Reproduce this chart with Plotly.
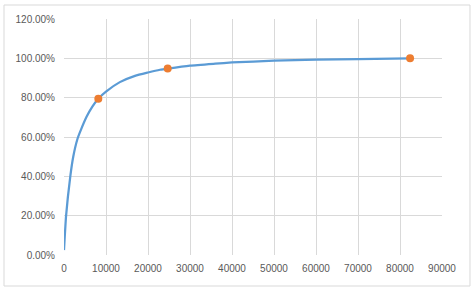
import plotly.graph_objects as go

# cumulative curve
curve_x = [0, 500, 1500, 2200, 3200, 4000, 5400, 6750, 8170, 10000, 13300,
           16900, 20000, 22860, 24690, 30000, 36000, 40000, 50000, 60000, 70000, 82400]
curve_y = [0.025, 0.20, 0.40, 0.50, 0.59, 0.635, 0.704, 0.755, 0.795, 0.831, 0.879,
           0.911, 0.928, 0.942, 0.948, 0.963, 0.973, 0.979, 0.988, 0.993, 0.996, 1.0]

# highlighted points
mark_x = [8170, 24690, 82400]
mark_y = [0.795, 0.948, 1.0]

x_ticks = [0, 10000, 20000, 30000, 40000, 50000, 60000, 70000, 80000, 90000]
y_ticks = [0, 0.2, 0.4, 0.6, 0.8, 1.0, 1.2]

fig = go.Figure()
fig.add_trace(go.Scatter(x=curve_x, y=curve_y, mode="lines",
                         line=dict(color="#5b9bd5", width=2.25, shape="spline", smoothing=0.5),
                         showlegend=False, hoverinfo="skip"))
fig.add_trace(go.Scatter(x=mark_x, y=mark_y, mode="markers",
                         marker=dict(color="#ed7d31", size=8),
                         showlegend=False))

font = dict(family="Liberation Sans", size=10, color="#595959")
fig.update_layout(
    width=474, height=291,
    margin=dict(l=64, r=32, t=19, b=36),
    paper_bgcolor="white", plot_bgcolor="white",
    font=font,
    xaxis=dict(range=[0, 90000], tickvals=x_ticks, ticktext=[str(v) for v in x_ticks],
               showgrid=True, gridcolor="#d9d9d9", gridwidth=1, zeroline=False,
               showline=False, ticks="", tickfont=font, ticklabelstandoff=6),
    yaxis=dict(range=[0, 1.2], tickvals=y_ticks, tickformat=".2%",
               showgrid=True, gridcolor="#d9d9d9", gridwidth=1, zeroline=False,
               showline=False, ticks="", tickfont=font, ticklabelstandoff=8),
    shapes=[dict(type="rect", xref="paper", yref="paper",
                 x0=-0.1587, x1=1.074, y0=-0.1314, y1=1.0593,
                 line=dict(color="#d9d9d9", width=1), fillcolor="rgba(0,0,0,0)", layer="below")],
)
fig.write_html("out.html")
